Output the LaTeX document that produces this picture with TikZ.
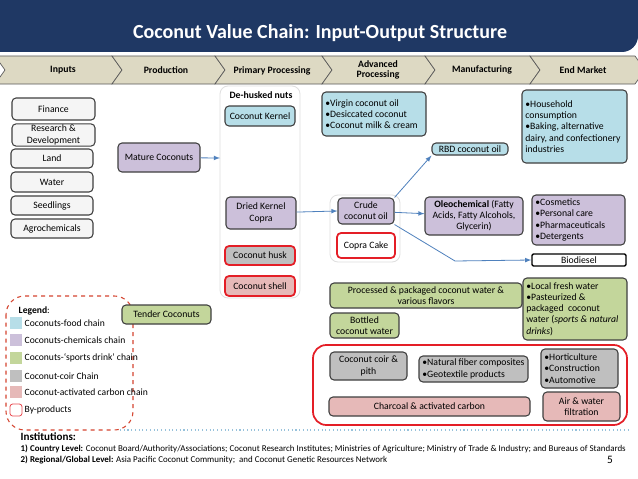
\documentclass[tikz,border=0pt]{standalone}
\usepackage{fontspec}
\setmainfont{Carlito}
\usetikzlibrary{calc}
\definecolor{navy}{HTML}{1F3864}
\definecolor{beige}{HTML}{DDD9C3}
\definecolor{cyanf}{HTML}{B7DEE8}
\definecolor{purpf}{HTML}{CCC0DA}
\definecolor{greenf}{HTML}{C3D69B}
\definecolor{grayf}{HTML}{BFBFBF}
\definecolor{pinkf}{HTML}{E6B9B8}
\definecolor{redb}{HTML}{E41E26}
\definecolor{edge}{HTML}{404040}
\definecolor{arr}{HTML}{4F81BD}
\tikzset{
 bx/.style={draw=edge,line width=0.8pt,rounded corners=3pt,align=flush center,font=\fontsize{7.3}{8.4}\selectfont,inner sep=1pt},
 inp/.style={bx,fill=gray!8},
 fd/.style={bx,fill=cyanf},
 ch/.style={bx,fill=purpf},
 gr/.style={bx,fill=greenf},
 co/.style={bx,fill=grayf},
 ca/.style={bx,fill=pinkf},
 byp/.style={draw=redb,line width=1.3pt},
 lst/.style={align=flush left},
 ar/.style={-latex,draw=arr,line width=0.6pt},
 cont/.style={draw=gray!25,line width=0.6pt,rounded corners=6pt},
 stage/.style={font=\bfseries\fontsize{7.3}{8}\selectfont,align=center},
 leg/.style={font=\fontsize{7.2}{8}\selectfont,anchor=west},
}
\newcommand{\bxat}[5]{\node[#1,minimum width={(#4-#2)*0.75pt},minimum height={(#5-#3)*0.75pt},text width={(#4-#2)*0.75pt-5pt}] at ({(#2+#4)/2},{(#3+#5)/2})}
\begin{document}
\hyphenpenalty=10000
\begin{tikzpicture}[x=0.75pt,y=-0.75pt]
\useasboundingbox (0,0) rectangle (638,478);
\fill[white] (0,0) rectangle (638,478);
% title
\fill[navy,rounded corners=12pt] (-20,-20) rectangle (638,52);
\fill[navy] (-20,-20) rectangle (600,52);
\node[text=white,font=\bfseries\fontsize{15}{16}\selectfont] (title) at (320,33) {Coconut Value Chain: Input-Output Structure};
% chevrons
\foreach \a/\b [count=\i] in {-5/112,112/215,215/322,322/425,425/530,530/635}{
 \fill[beige,draw=gray!70!black,line width=0.5pt] (\a,56) -- (\b,56) -- (\b+10,70) -- (\b,84) -- (\a,84) -- (\a+10,70) -- cycle;}
\node[stage] (s1) at (63,70) {Inputs};
\node[stage] (s2) at (166,70) {Production};
\node[stage] (s3) at (272,71) {Primary Processing};
\node[stage] (s4) at (378,70) {Advanced\\Processing};
\node[stage] (s5) at (482,70) {Manufacturing};
\node[stage] (s6) at (583,70) {End Market};
% inputs
\bxat{inp}{12}{98}{95}{120} (fin) {Finance};
\bxat{inp}{12}{124}{95}{146} (rd) {Research \&\\Development};
\bxat{inp}{11}{149}{93}{168} (land) {Land};
\bxat{inp}{11}{172}{93}{192} (water) {Water};
\bxat{inp}{11}{196}{93}{215} (seed) {Seedlings};
\bxat{inp}{11}{219}{93}{238} (agro) {Agrochemicals};
% production
\bxat{ch}{118}{143}{200}{172} (mat) {Mature Coconuts};
% primary container
\draw[cont] (220,86) rectangle (300,298);
\node[font=\bfseries\fontsize{7.3}{8}\selectfont] (dh) at (261,95) {De-husked nuts};
\bxat{fd}{225}{106}{295}{126} (kern) {Coconut Kernel};
\bxat{ch}{226}{197}{296}{229} (copra) {Dried Kernel\\Copra};
\bxat{co,byp}{225}{246}{295}{265} (husk) {Coconut husk};
\bxat{ca,byp}{225}{276}{295}{296} (shell) {Coconut shell};
\coordinate (pin) at (220,158);
\draw[ar] (mat) -- (pin);
% advanced
\draw[cont] (330,195) rectangle (400,262);
\bxat{ch}{338}{198}{394}{224} (crude) {Crude\\coconut oil};
\bxat{bx,byp,fill=white}{337}{233}{395}{258} (cake) {Copra Cake};
\bxat{fd,lst}{322}{92}{426}{136} (virgin) {•Virgin coconut oil\\•Desiccated coconut\\•Coconut milk \& cream};
\draw[ar] (copra) -- (crude.west);
% manufacturing
\bxat{fd}{432}{143}{508}{155} (rbd) {RBD coconut oil};
\bxat{ch}{425}{197}{523}{235} (oleo) {\textbf{Oleochemical} (Fatty Acids, Fatty Alcohols, Glycerin)};
\draw[ar] (crude.north east) -- (rbd.south west);
\draw[ar] (crude) -- (oleo);
% end market
\bxat{fd,lst}{522}{90}{627}{163} (house) {•Household consumption\\•Baking, alternative dairy, and confectionery industries};
\bxat{ch,lst}{532}{195}{625}{245} (cosm) {•Cosmetics\\•Personal care\\•Pharmaceuticals\\•Detergents};
\bxat{bx,fill=white,draw=black,line width=1.1pt,rounded corners=1pt}{532}{254}{626}{266} (bio) {Biodiesel};
\coordinate (bend) at (455,261);
\draw[ar] (crude.south east) -- (bend) -- (bio.west);
% water chain
\bxat{gr}{330}{283}{522}{308} (proc) {Processed \& packaged coconut water \& various flavors};
\bxat{gr,lst}{523}{278}{627}{340} (local) {•Local fresh water\\•Pasteurized \& packaged\ \ coconut water (\textit{sports \& natural drinks})};
\bxat{gr}{330}{313}{399}{338} (bottle) {Bottled\\coconut water};
% by-product frame
\draw[redb,line width=1.3pt,rounded corners=10pt] (313,345) rectangle (627,425);
\bxat{co}{330}{352}{407}{380} (coir) {Coconut coir \&\\pith};
\bxat{co,lst}{419}{356}{528}{382} (fiber) {•Natural fiber composites\\•Geotextile products};
\bxat{co,lst}{541}{349}{618}{388} (hort) {•Horticulture\\•Construction\\•Automotive};
\bxat{ca}{329}{397}{530}{416} (char) {Charcoal \& activated carbon};
\bxat{ca}{543}{392}{620}{421} (air) {Air \& water\\filtration};
% dotted line
\draw[cyanf!70!arr,dotted,line width=0.8pt] (120,430) -- (630,430);
% legend
\draw[draw=redb!60!brown,dashed,line width=0.8pt,rounded corners=14pt,fill=white] (6,296) rectangle (133,430);
\node[leg] (lg) at (14,311) {\textbf{Legend}:};
\foreach \y/\c/\t [count=\i] in {323/cyanf/Coconuts-food chain,340/purpf/Coconuts-chemicals chain,358/greenf/Coconuts-`sports drink' chain,376/grayf/Coconut-coir Chain,392/pinkf/Coconut-activated carbon chain}{
 \fill[\c] (10,{\y-6}) rectangle (22,{\y+6});
 \node[leg] (l\i) at (20,\y) {\t};}
\draw[redb!80,line width=0.6pt,rounded corners=2pt] (10,404) rectangle (22,416);
\node[leg] (l6) at (20,410) {By-products};
\bxat{gr}{122}{305}{211}{324} (tender) {Tender Coconuts};
% institutions
\node[anchor=west,font=\bfseries\fontsize{8.3}{9}\selectfont] (inst) at (16,437) {Institutions:};
\node[anchor=west,font=\fontsize{6.7}{7}\selectfont] (i1) at (16,449) {\textbf{1) Country Level:} Coconut Board/Authority/Associations; Coconut Research Institutes; Ministries of Agriculture; Ministry of Trade \& Industry; and Bureaus of Standards};
\node[anchor=west,font=\fontsize{6.7}{7}\selectfont] (i2) at (16,460) {\textbf{2) Regional/Global Level:} Asia Pacific Coconut Community;\ \ and Coconut Genetic Resources Network};
\node[font=\fontsize{8.5}{9}\selectfont] (pg) at (610,460) {5};
\end{tikzpicture}
\end{document}
